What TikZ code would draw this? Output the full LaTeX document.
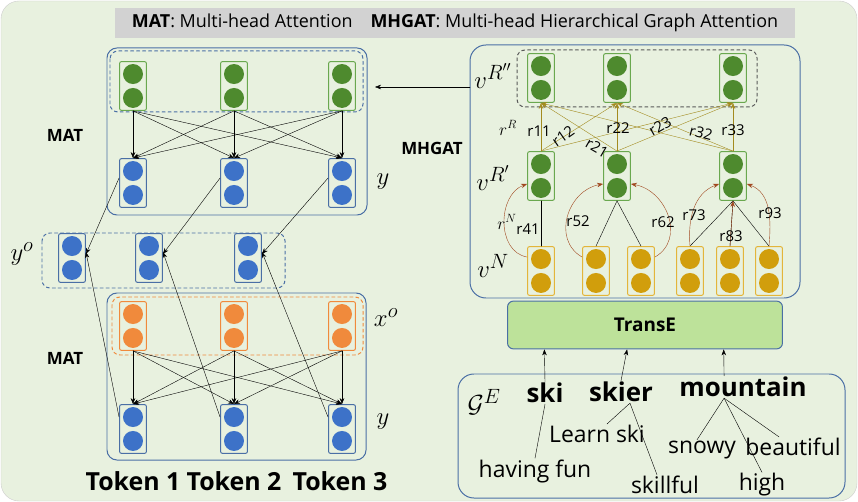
\documentclass[tikz,border=0pt]{standalone}
\usepackage{fontspec}
\setmainfont{Open Sans}
\usepackage{amsmath}
\usetikzlibrary{arrows.meta}

\definecolor{bgcol}{HTML}{E8F1DF}
\definecolor{boxblue}{HTML}{4A6FA5}
\definecolor{dkgreen}{HTML}{4E8A2E}
\definecolor{lgreen}{HTML}{6AA84F}
\definecolor{dotblue}{HTML}{3D72C8}
\definecolor{dotorange}{HTML}{F08A3C}
\definecolor{dotyellow}{HTML}{D19E0C}
\definecolor{lyellow}{HTML}{E3B53A}
\definecolor{olive}{HTML}{A38B1F}
\definecolor{brownred}{HTML}{A0471F}
\definecolor{transe}{HTML}{BDE29A}

\tikzset{
  cell/.style={draw, rounded corners=2, line width=1pt, minimum width=27, minimum height=49, inner sep=0},
  gcell/.style={cell, draw=lgreen},
  bcell/.style={cell, draw=boxblue},
  ocell/.style={cell, draw=dotorange},
  ycell/.style={cell, draw=lyellow},
  frame/.style={draw=boxblue, rounded corners=10, line width=1pt},
  grp/.style={dashed, rounded corners=8, line width=1pt},
  att/.style={-{Stealth[length=6]}, black},
  rel/.style={-{Stealth[length=6]}, olive},
  hop/.style={-{Stealth[length=6]}, brownred},
  lab/.style={font=\fontsize{15}{17}\selectfont},
  math/.style={font=\fontsize{30}{32}\selectfont},
  word/.style={font=\bfseries\fontsize{26}{28}\selectfont, inner sep=1},
  leaf/.style={font=\fontsize{23}{25}\selectfont, inner sep=1},
  tag/.style={font=\bfseries\fontsize{17}{19}\selectfont}
}
% two dots inside a cell
\newcommand{\celldots}[2]{\fill[#2] ([yshift=12]#1.center) circle (10); \fill[#2] ([yshift=-12]#1.center) circle (10);}

\begin{document}
\begin{tikzpicture}[x=1bp, y=-1bp, line cap=round]
  \useasboundingbox (0,0) rectangle (858,502);
  \fill[bgcol, draw=gray!40, rounded corners=18] (1,1) rectangle (857,501);

  % title bar
  \fill[gray!35] (115,8) rectangle (795,38);
  \node[font=\fontsize{18}{20}\selectfont] (title) at (455,23) {\textbf{MAT}: Multi-head Attention\quad \textbf{MHGAT}: Multi-head Hierarchical Graph Attention};

  % left frames
  \draw[frame] (107,48) rectangle (367,215);
  \draw[frame] (107,293) rectangle (366,460);
  \draw[grp, draw=boxblue] (110,51) rectangle (363,112);
  \draw[grp, draw=boxblue] (42,233) rectangle (285,288);
  \draw[grp, draw=dotorange] (112,297) rectangle (363,355);

  % left cells
  \foreach \n/\x in {1/133, 2/234, 3/342} {
    \node[gcell] (g\n) at (\x,86) {}; \celldots{g\n}{dkgreen}
    \node[bcell] (b\n) at (\x,183) {}; \celldots{b\n}{dotblue}
    \node[ocell] (o\n) at (\x,326) {}; \celldots{o\n}{dotorange}
    \node[bcell] (c\n) at (\x,429) {}; \celldots{c\n}{dotblue}
  }
  \foreach \n/\x in {1/72, 2/149, 3/248} {
    \node[bcell] (yo\n) at (\x,258) {}; \celldots{yo\n}{dotblue}
  }

  % attention edges
  \foreach \i in {1,2,3} {
    \foreach \j in {1,2,3} {
      \draw[att] (g\i.south) -- (b\j.north);
      \draw[att] (o\i.south) -- (c\j.north);
    }
    \draw[att] ([yshift=5]b\i.west) -- ([yshift=4]yo\i.east);
    \draw[att] ([yshift=12]c\i.west) -- ([yshift=6]yo\i.east);
  }

  % left labels
  \node[tag] (mat1) at (65,135) {MAT};
  \node[tag] (mat2) at (65,358) {MAT};
  \node[math] (ly1) at (383,182) {$y$};
  \node[math] (ly2) at (383,422) {$y$};
  \node[math] (lyo) at (22,254) {$y^o$};
  \node[math] (lxo) at (386,318) {$x^o$};
  \foreach \n/\x in {1/133, 2/234, 3/340}
    \node[font=\bfseries\fontsize{25}{27}\selectfont] (tok\n) at (\x,481) {Token \n};

  % MHGAT frame
  \draw[frame, rounded corners=16] (470,45) rectangle (800,298);
  \draw[grp, draw=gray!70!black] (517,50) rectangle (757,107);
  \node[tag] (mhgat) at (432,148) {MHGAT};
  \coordinate (feed) at (470,87);
  \draw[att] (feed) -- (375,87);

  \foreach \n/\x in {1/541, 2/617, 3/733} {
    \node[gcell] (h\n) at (\x,78) {}; \celldots{h\n}{dkgreen}
    \node[gcell] (r\n) at (\x,176) {}; \celldots{r\n}{dkgreen}
  }
  \foreach \n/\x in {1/541, 2/596, 3/641, 4/690, 5/730, 6/769} {
    \node[ycell] (n\n) at (\x,271) {}; \celldots{n\n}{dotyellow}
  }

  % relation edges
  \foreach \i in {1,2,3}
    \foreach \j in {1,2,3}
      \draw[rel] (r\i.north) -- (h\j.south);
  \foreach \i/\j in {1/1, 2/2, 3/2, 4/3, 5/3, 6/3}
    \draw (n\i.north) -- (r\j.south);
  \draw[hop] ([yshift=14]n1.west) to[out=170, in=200, looseness=1.1] ([yshift=-8]r1.west);
  \draw[hop] ([yshift=14]n2.west) to[out=150, in=190, looseness=1.2] ([yshift=-8]r2.west);
  \draw[hop] ([yshift=14]n3.east) to[out=30, in=-10, looseness=1.2] ([yshift=-8]r2.east);
  \draw[hop] (n4.north) to[out=95, in=200] ([yshift=-8]r3.west);
  \draw[hop] (n5.north) -- (r3.south);
  \draw[hop] (n6.north) to[out=85, in=-20] ([yshift=-8]r3.east);

  % edge labels
  \foreach \t/\x/\y/\a in {r11/539/131/0, r12/563/136/35, r21/597/148/-30, r22/618/128/0, r23/660/126/30, r32/701/133/-15, r33/733/130/0,
                            r41/528/229/0, r52/578/221/0, r62/663/222/0, r73/694/215/0, r83/731/236/0, r93/770/213/0}
    \node[lab, rotate=\a, inner sep=0] (e\t) at (\x,\y) {\t};
  \node[math] (lvh) at (493,76) {$v^{R''}$};
  \node[math] (lvr) at (493,178) {$v^{R'}$};
  \node[math] (lvn) at (493,266) {$v^{N}$};
  \node[font=\fontsize{18}{20}\selectfont] (lrr) at (508,128) {$r^R$};
  \node[font=\fontsize{18}{20}\selectfont] (lrn) at (507,222) {$r^N$};

  % TransE and graph
  \node[draw=boxblue, fill=transe, rounded corners=6, line width=1pt, minimum width=276, minimum height=48, font=\bfseries\fontsize{19}{21}\selectfont] (tr) at (645,325) {TransE};
  \draw[frame, rounded corners=16] (458,374) rectangle (845,498);
  \node[math] (lge) at (484,402) {$\mathcal{G}^E$};
  \node[word] (ski) at (545,393) {ski};
  \node[word] (skier) at (621,392) {skier};
  \node[word] (mtn) at (743,387) {mountain};
  \node[leaf] (fun) at (535,471) {having fun};
  \node[leaf] (learn) at (597,434) {Learn ski};
  \node[leaf] (skill) at (665,485) {skillful};
  \node[leaf] (snowy) at (702,450) {snowy};
  \node[leaf] (beau) at (793,447) {beautiful};
  \node[leaf] (high) at (762,485) {high};
  \draw[att] (ski.north) -- ([xshift=-101]tr.south);
  \draw[att] (skier.north) -- ([xshift=-18]tr.south);
  \draw[att] ([xshift=-19]mtn.north) -- ([xshift=79]tr.south);
  \draw (ski.south) -- (fun.north);
  \draw ([xshift=9]skier.south) -- ([xshift=10]learn.north);
  \draw ([xshift=9]skier.south) -- ([xshift=-8]skill.north);
  \draw ([xshift=-19]mtn.south) -- ([xshift=-5]snowy.north);
  \draw ([xshift=-19]mtn.south) -- (high.north);
  \draw ([xshift=-19]mtn.south) -- ([xshift=-14]beau.north);
\end{tikzpicture}
\end{document}
